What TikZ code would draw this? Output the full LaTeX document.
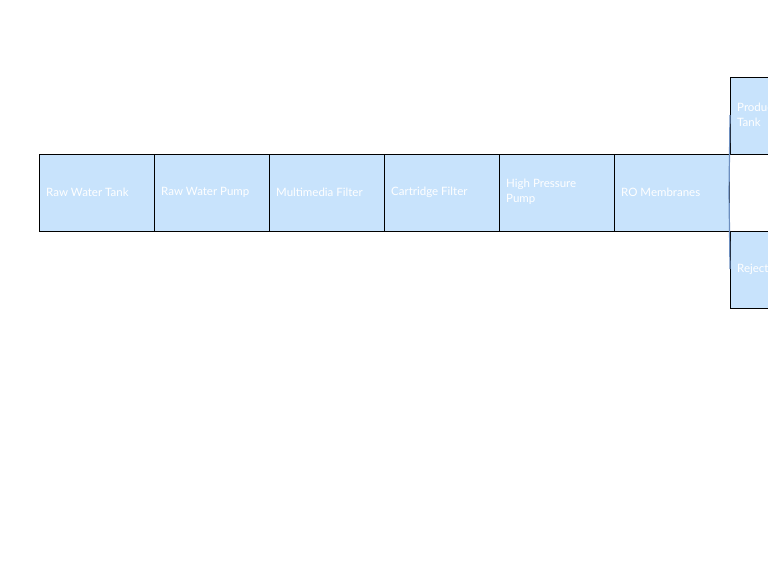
\documentclass[tikz,border=0pt]{standalone}
\usepackage{fontspec}
\setmainfont{Lato}
\usetikzlibrary{positioning}
\definecolor{stagefill}{HTML}{C8E3FC}
\definecolor{linkblue}{HTML}{6C8EBF}
\tikzset{
  stage/.style={draw=black, fill=stagefill, minimum width=115pt, minimum height=77pt,
    inner sep=0pt, outer sep=0pt, anchor=north west},
  lbl/.style={text=white, font=\fontsize{11.5}{15}\selectfont, align=left,
    inner sep=0pt, anchor=west}
}
\begin{document}
\begin{tikzpicture}[x=1pt, y=-1pt]

    \useasboundingbox (0,0) rectangle (768,576);
    \clip (0,0) rectangle (768,576);

    \node[stage] (tank)  at (39, 154) {};
    \node[stage] (pump)  at (154, 154) {};
    \node[stage] (mmf)   at (269, 154) {};
    \node[stage] (cf)    at (384, 154) {};
    \node[stage] (hpp)   at (499, 154) {};
    \node[stage] (ro)    at (614, 154) {};
    \node[stage] (prod)  at (730, 77) {};
    \node[stage] (rej)   at (730, 231) {};

    \node[lbl] at (46, 192) {Raw Water Tank};
    \node[lbl] at (161, 192) {Raw Water Pump};
    \node[lbl] at (276, 192) {Multimedia Filter};
    \node[lbl] at (391, 192) {Cartridge Filter};
    \node[lbl] at (506, 192) {High Pressure\\Pump};
    \node[lbl] at (621, 192) {RO Membranes};
    \node[lbl] at (737, 115) {Product\\Tank};
    \node[lbl] at (737, 269) {Reject};

    \coordinate (p) at (730, 115);
    \coordinate (r) at (730, 269);
    \draw[linkblue, line width=1.2pt] (p) -- (ro.east) -- (r);

\end{tikzpicture}
\end{document}
